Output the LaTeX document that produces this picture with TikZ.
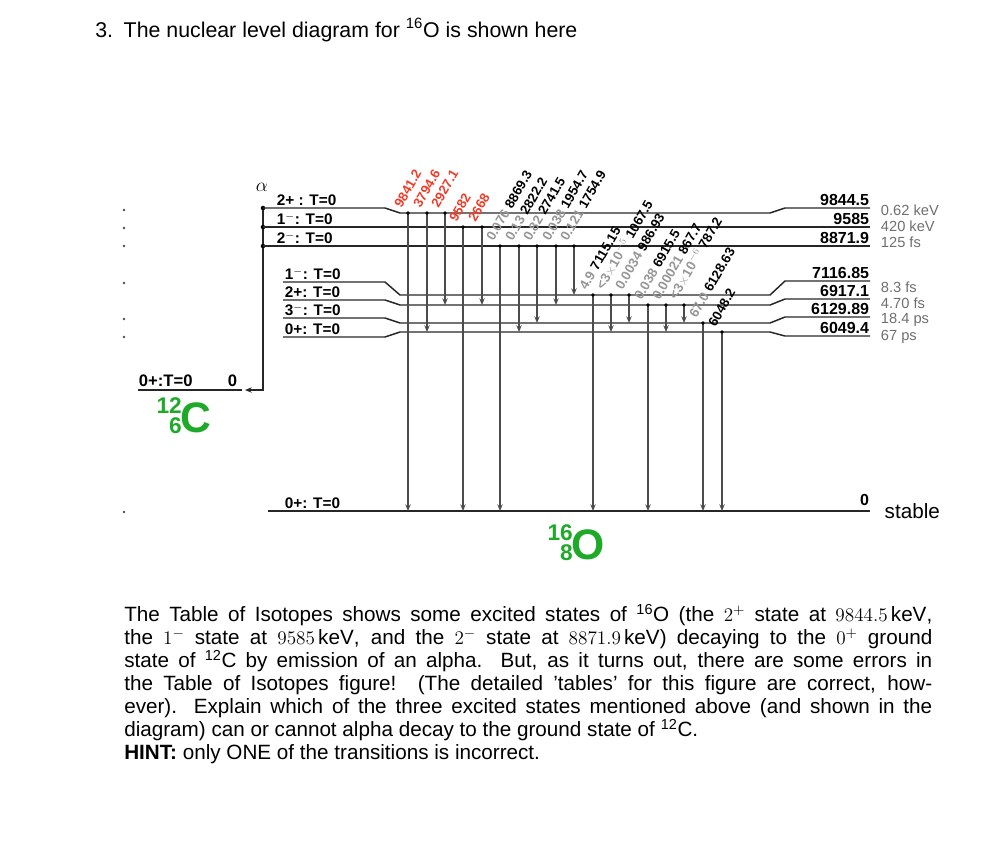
\documentclass[tikz,border=0pt]{standalone}
\usepackage{fontspec}
\setmainfont{Liberation Sans}
\usetikzlibrary{arrows.meta}
\definecolor{cred}{RGB}{240,60,40}
\definecolor{cgreen}{RGB}{30,170,40}
\definecolor{cgray}{RGB}{110,110,110}
\definecolor{lgray}{RGB}{150,150,150}
\begin{document}
\begin{tikzpicture}[x=0.75pt,y=-0.75pt,
  lvl/.style={line width=1.1pt,black!85},
  tr/.style={line width=1.1pt,black!70,-{Stealth[length=5pt,width=4pt]}},
  st/.style={fill=black,circle,inner sep=1.2pt},
  llab/.style={anchor=south west,inner sep=0.5pt,font=\fontsize{11.5}{12}\selectfont\bfseries},
  elab/.style={anchor=south east,inner sep=0.5pt,font=\fontsize{12}{12}\selectfont\bfseries},
  hlab/.style={anchor=west,inner sep=0.5pt,text=cgray,font=\fontsize{11}{11}\selectfont},
  glab/.style={anchor=south west,rotate=60,inner sep=0.5pt,font=\fontsize{10}{11}\selectfont\bfseries},
  iso/.style={text=cgreen,inner sep=0,font=\bfseries},
  dot/.style={fill=black!70,circle,inner sep=0.7pt}]
\useasboundingbox (0,0) rectangle (994,844);
% title
\node[anchor=west,inner sep=0,font=\fontsize{16}{18}\selectfont] (title) at (95,30) {3.\hspace{0.5em}The nuclear level diagram for \textsuperscript{16}O is shown here};
% stray dots
\foreach \yy in {210,228,246,283,319,337,512} \node[dot] at (124,\yy) {};
% 12C
\draw[lvl] (138,390) -- (242,390);
\node[llab,font=\fontsize{12.5}{13}\selectfont\bfseries] (c12lab) at (138,388) {0+:T=0};
\node[llab,font=\fontsize{12.5}{13}\selectfont\bfseries] at (227,388) {0};
\node[iso,font=\fontsize{32}{32}\selectfont\bfseries,anchor=west] (c12) at (180,418) {C};
\node[iso,font=\fontsize{17}{17}\selectfont\bfseries,anchor=east] (c12a) at (182,406) {12};
\node[iso,font=\fontsize{17}{17}\selectfont\bfseries,anchor=east] (c12z) at (182,426) {6};
% alpha
\node[font=\fontsize{15}{15}\selectfont] (alpha) at (262,187) {$\alpha$};
\draw[line width=1.1pt,black!85,-{Stealth[length=5pt,width=4pt]}] (263,208) -- (263,390) -- (245,390);
\foreach \yy in {208,227,246} \node[st] at (263,\yy) {};
% levels
\draw[lvl] (263,208)--(385,208)--(400,213)--(770,213)--(785,208)--(870,208);
\draw[lvl] (263,227)--(870,227);
\draw[lvl] (263,246)--(870,246);
\draw[lvl] (283,282)--(385,282)--(400,295)--(770,295)--(785,281)--(870,281);
\draw[lvl] (283,300)--(385,300)--(400,305)--(770,305)--(785,299)--(870,299);
\draw[lvl] (283,318)--(385,318)--(400,323)--(770,323)--(785,317)--(870,317);
\draw[lvl] (283,337)--(385,337)--(400,332)--(770,332)--(785,336)--(870,336);
\draw[lvl] (268,511)--(870,511);
% left labels
\node[llab] at (276,207) {2+ : T=0};
\node[llab] at (276,226) {1$^{-}$: T=0};
\node[llab] at (276,245) {2$^{-}$: T=0};
\node[llab] at (284,281) {1$^{-}$: T=0};
\node[llab] at (284,299) {2+: T=0};
\node[llab] at (284,317) {3$^{-}$: T=0};
\node[llab] at (284,336) {0+: T=0};
\node[llab] at (284,510) {0+: T=0};
% right labels
\node[elab] at (870,207) {9844.5};
\node[elab] at (870,226) {9585};
\node[elab] at (870,245) {8871.9};
\node[elab] at (870,280) {7116.85};
\node[elab] at (870,298) {6917.1};
\node[elab] at (870,316) {6129.89};
\node[elab] at (870,335) {6049.4};
\node[elab] at (870,507) {0};
\node[hlab] at (880,210) {0.62 keV};
\node[hlab] at (880,226) {420 keV};
\node[hlab] at (880,242) {125 fs};
\node[hlab] at (880,287) {8.3 fs};
\node[hlab] at (880,303) {4.70 fs};
\node[hlab] at (880,320) {18.4 ps};
\node[hlab] at (880,337) {67 ps};
\node[anchor=west,font=\fontsize{15.5}{16}\selectfont] at (880,511) {stable};
% transitions: x, from, to, label
\foreach \x/\a/\b/\t in {408/213/511/{\color{cred}9841.2},427/213/332/{\color{cred}3794.6},445/213/305/{\color{cred}2927.1},
  463/227/511/{\color{cred}9582},482/227/305/{\color{cred}2668},
  500/246/511/{\color{lgray}0.076\ }8869.3,519/246/332/{\color{lgray}0.13\ }2822.2,537/246/323/{\color{lgray}0.82\ }2741.5,
  556/246/305/{\color{lgray}0.038\ }1954.7,574/246/295/{\color{lgray}0.121\ }1754.9,
  593/295/511/{\color{lgray}4.9\ }7115.15,611/295/332/{\color{lgray}<3$\times$10$^{-5}$\ }1067.5,629/295/323/{\color{lgray}0.0034\ }986.93,
  648/305/511/{\color{lgray}0.038\ }6915.5,666/305/332/{\color{lgray}0.00021\ }867.7,684/305/323/{\color{lgray}<3$\times$10$^{-6}$\ }787.2,
  703/323/511/{\color{lgray}67.0\ }6128.63,722/332/511/6048.2}
{
  \draw[tr] (\x,\a) -- (\x,\b);
  \node[st,inner sep=1pt] at (\x,\a) {};
  \node[glab] at (\x-6,\a-3) {\t};
}
% 16O
\node[iso,font=\fontsize{32}{32}\selectfont\bfseries,anchor=west] (o16) at (571,545) {O};
\node[iso,font=\fontsize{17}{17}\selectfont\bfseries,anchor=east] (o16a) at (573,533) {16};
\node[iso,font=\fontsize{17}{17}\selectfont\bfseries,anchor=east] (o16z) at (573,553) {8};
% paragraph
\node[anchor=north west,inner sep=0,text width=606pt,align=justify,font=\fontsize{15.5}{17.25}\selectfont] (para) at (124,604) {%
The Table of Isotopes shows some excited states of \textsuperscript{16}O (the $2^{+}$ state at $9844.5\,\mathrm{keV}$,\linebreak
the $1^{-}$ state at $9585\,\mathrm{keV}$, and the $2^{-}$ state at $8871.9\,\mathrm{keV}$) decaying to the $0^{+}$ ground\linebreak
state of \textsuperscript{12}C by emission of an alpha. But, as it turns out, there are some errors in\linebreak
the Table of Isotopes figure! (The detailed 'tables' for this figure are correct, how-\linebreak
ever). Explain which of the three excited states mentioned above (and shown in the\linebreak
diagram) can or cannot alpha decay to the ground state of \textsuperscript{12}C.\\
\textbf{HINT:} only ONE of the transitions is incorrect.};
\end{tikzpicture}
\end{document}
